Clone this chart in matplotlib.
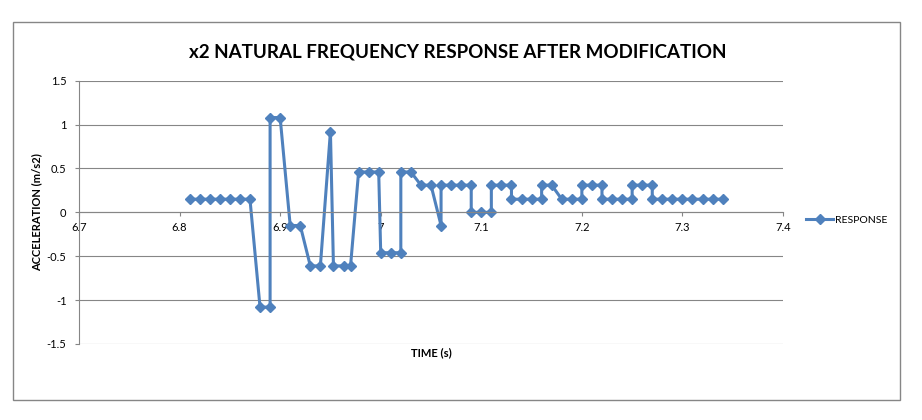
import matplotlib
matplotlib.use("Agg")
import matplotlib.pyplot as plt
from matplotlib.patches import Rectangle

plt.rcParams['font.family'] = ['Lato', 'DejaVu Sans']

# data (time has repeated values at the jumps)
time = [6.81, 6.82, 6.83, 6.84, 6.85, 6.86, 6.87, 6.88, 6.89, 6.89,
        6.90, 6.91, 6.92, 6.93, 6.94, 6.95, 6.953, 6.963, 6.97, 6.978,
        6.988, 6.998, 7.00, 7.01, 7.02, 7.02, 7.03, 7.04, 7.05, 7.06,
        7.06, 7.07, 7.08, 7.09, 7.09, 7.10, 7.11, 7.11, 7.12, 7.13,
        7.13, 7.14, 7.15, 7.16, 7.16, 7.17, 7.18, 7.19, 7.20, 7.20,
        7.21, 7.22, 7.22, 7.23, 7.24, 7.25, 7.25, 7.26, 7.27, 7.27,
        7.28, 7.29, 7.30, 7.31, 7.32, 7.33, 7.34]
accel = [0.15, 0.15, 0.15, 0.15, 0.15, 0.15, 0.15, -1.08, -1.08, 1.08,
         1.08, -0.15, -0.15, -0.61, -0.61, 0.92, -0.61, -0.61, -0.61, 0.46,
         0.46, 0.46, -0.46, -0.46, -0.46, 0.46, 0.46, 0.31, 0.31, -0.15,
         0.31, 0.31, 0.31, 0.31, 0.0, 0.0, 0.0, 0.31, 0.31, 0.31,
         0.15, 0.15, 0.15, 0.15, 0.31, 0.31, 0.15, 0.15, 0.15, 0.31,
         0.31, 0.31, 0.15, 0.15, 0.15, 0.15, 0.31, 0.31, 0.31, 0.15,
         0.15, 0.15, 0.15, 0.15, 0.15, 0.15, 0.15]
assert len(time) == len(accel)

xticks = [6.7, 6.8, 6.9, 7.0, 7.1, 7.2, 7.3, 7.4]
xticklabels = ["6.7", "6.8", "6.9", "7", "7.1", "7.2", "7.3", "7.4"]
yticks = [-1.5, -1, -0.5, 0, 0.5, 1, 1.5]
yticklabels = ["-1.5", "-1", "-0.5", "0", "0.5", "1", "1.5"]

W, H = 922, 420
grey = '#868686'
blue = '#4F81BD'

fig = plt.figure(figsize=(W/100, H/100), dpi=100)
ax = fig.add_axes([79/W, 1 - 344/H, (783-79)/W, (344-80.7)/H])

line, = ax.plot(time, accel, color=blue, lw=2.2, marker='D', ms=5.5,
                mec=blue, mfc=blue, label='RESPONSE')

ax.set_xlim(6.7, 7.4)
ax.set_ylim(-1.5, 1.5)
ax.set_xticks(xticks)
ax.set_xticklabels(xticklabels)
ax.set_yticks(yticks)
ax.set_yticklabels(yticklabels)

ax.grid(axis='y', color=grey, lw=0.8)
ax.set_axisbelow(True)
for s in ['top', 'right']:
    ax.spines[s].set_visible(False)
ax.spines['left'].set_color(grey)
ax.spines['bottom'].set_color(grey)
ax.spines['bottom'].set_position(('data', 0))
ax.tick_params(axis='both', colors=grey, labelcolor='#000000', labelsize=8,
               length=3, width=0.8, direction='out')
ax.tick_params(axis='y', pad=6)
ax.tick_params(axis='x', pad=4)

fig.text(458/W, 1 - 52/H, "x2 NATURAL FREQUENCY RESPONSE AFTER MODIFICATION",
         ha='center', va='center', fontsize=13.5, fontweight='bold')
fig.text(37/W, 1 - 212/H, "ACCELERATION (m/s2)", rotation=90,
         ha='center', va='center', fontsize=8, fontweight='bold')
fig.text(431/W, 1 - 353/H, "TIME (s)", ha='center', va='center',
         fontsize=8, fontweight='bold')

fig.legend(handles=[line], loc='center left', bbox_to_anchor=(806/W, 1 - 220/H),
           frameon=False, fontsize=7.5, handlelength=2.6, handletextpad=0.2,
           borderpad=0, borderaxespad=0)

# chart border
fig.patches.append(Rectangle((13/W, 1 - 400/H), 887/W, 378/H,
                             transform=fig.transFigure, fill=False,
                             edgecolor=grey, lw=1))

fig.savefig("out.png", dpi=100)
